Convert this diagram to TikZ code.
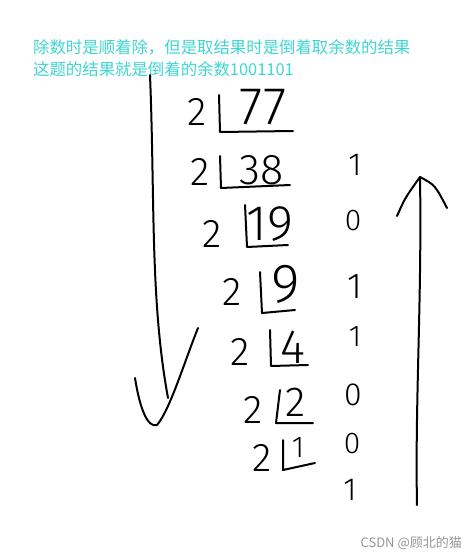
\documentclass[tikz,border=0pt]{standalone}
\usepackage{fontspec}
\newfontfamily\cjkfont{Noto Sans CJK SC}
\newfontfamily\handfont{Fira Sans}[UprightFont={* Light}]
\definecolor{notecyan}{RGB}{64,214,208}
\definecolor{markgray}{RGB}{150,150,150}

\begin{document}
\begin{tikzpicture}[x=1pt,y=-1pt,
	pen/.style={line width=2pt,line cap=round,line join=round},
	digit/.style={font=\handfont\fontsize{#1}{#1}\selectfont,inner sep=0pt}]
				\useasboundingbox[fill=white] (0,0) rectangle (474,560);
				\node[anchor=west,inner sep=0pt,text=notecyan,font=\cjkfont\fontsize{16.4}{16.4}\selectfont] (note1) at (33,47) {除数时是顺着除，但是取结果时是倒着取余数的结果};
				\node[anchor=west,inner sep=0pt,text=notecyan,font=\cjkfont\fontsize{16.4}{16.4}\selectfont] (note2) at (33,69) {这题的结果就是倒着的余数1001101};
				% the short division
				\node[digit=40] (d1) at (197,112) {2};
				\node[digit=53] (q1) at (263,107) {77};
				\draw[pen] (219,95)-- (220,132)-- (293,131);
				\node[digit=40] (d2) at (200,172) {2};
				\node[digit=43] (q2) at (262,170) {38};
				\draw[pen] (220,156)-- (221,188)-- (290,185);
				\node[digit=40] (d3) at (212,234) {2};
				\node[digit=50] (q3) at (270,224) {19};
				\draw[pen] (245,205)-- (247,247)-- (288,245);
				\node[digit=40] (d4) at (232,292) {2};
				\node[digit=55] (q4) at (286,284) {9};
				\draw[pen] (260,272)-- (262,313)-- (295,310);
				\node[digit=40] (d5) at (240,352) {2};
				\node[digit=48] (q5) at (293,347) {4};
				\draw[pen] (270,330)-- (271,366)-- (308,365);
				\node[digit=40] (d6) at (253,410) {2};
				\node[digit=42] (q6) at (296,402) {2};
				\draw[pen] (280,390)-- (276,423)-- (313,423);
				\node[digit=40] (d7) at (262,458) {2};
				\node[digit=30] (q7) at (298,448) {1};
				\draw[pen] (283,440)-- (283,470)-- (315,463);
				% remainders
				\node[digit=32] (r1) at (355,165) {1};
				\node[digit=30] (r2) at (353,221) {0};
				\node[digit=36] (r3) at (355,287) {1};
				\node[digit=30] (r4) at (355,337) {1};
				\node[digit=32] (r5) at (353,395) {0};
				\node[digit=30] (r6) at (352,444) {0};
				\node[digit=32] (r7) at (350,490) {1};
				% arrows
				\coordinate (down top) at (150,75);
				\coordinate (down tip) at (157,425);
				\draw[pen] (down top) .. controls (155,200) and (150,300) .. (168,398);
				\draw[pen] (135,378) .. controls (140,410) and (148,428) .. (down tip) .. controls (170,410) and (185,360) .. (198,328);
				\coordinate (up foot) at (417,505);
				\coordinate (up tip) at (420,177);
				\draw[pen] (up foot) .. controls (415,400) and (422,300) .. (up tip);
				\draw[pen] (397,216) .. controls (405,198) .. (up tip) .. controls (435,185) .. (447,208);
				\node[anchor=east,inner sep=0pt,text=markgray,font=\cjkfont\fontsize{13}{13}\selectfont] (mark) at (462,543) {CSDN @顾北的猫};
\end{tikzpicture}
\end{document}
